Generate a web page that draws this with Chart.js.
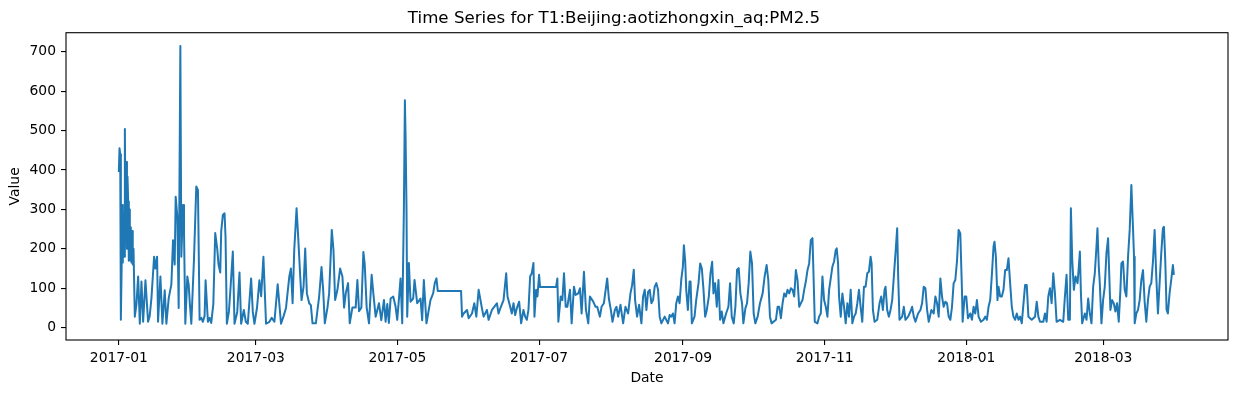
<!DOCTYPE html>
<html>
<head>
<meta charset="utf-8">
<title>Time Series for T1:Beijing:aotizhongxin_aq:PM2.5</title>
<script src="https://cdn.jsdelivr.net/npm/chart.js@4.4.1/dist/chart.umd.min.js"></script>
<style>
  html, body { margin: 0; padding: 0; background: #fff; }
  canvas { display: block; }
</style>
</head>
<body>
<canvas id="chart" width="1238" height="393"></canvas>
<script>
// [days since 2017-01-01 00:00, PM2.5] (thinned hourly series)
const pm25 = [
    [0, 395], [0.3, 455], [0.6, 440], [0.88, 20], [1.2, 150], [1.45, 311], [1.7, 165], [2.0, 290], [2.3, 180],
    [2.6, 504], [2.9, 260], [3.2, 420], [3.5, 200], [3.74, 383], [4.03, 320], [4.3, 170], [4.5, 300],
    [4.74, 172], [5.0, 255], [5.17, 170], [5.3, 240], [5.46, 165], [5.75, 245], [6.0, 160], [6.32, 200], [6.89, 28],
    [7.6, 60], [8.32, 130], [9.04, 10], [9.75, 117], [10.47, 15], [11.47, 120], [12.6, 15], [13.3, 30],
    [14.05, 75], [15.19, 180], [15.76, 150], [16.48, 180], [16.9, 15], [17.91, 130], [18.77, 10], [19.77, 95],
    [20.48, 10], [21.49, 75], [22.63, 110], [23.35, 222], [24.06, 160], [24.49, 332], [25.21, 280], [25.78, 50],
    [26.5, 714], [26.92, 180], [27.64, 311], [28.07, 245], [28.64, 10], [29.5, 130], [30.07, 110], [30.6, 60],
    [31.22, 10], [32.36, 172], [33.36, 358], [34.08, 349], [34.79, 20], [35.51, 25], [36.2, 15], [36.94, 30],
    [37.37, 120], [38.37, 15], [39.1, 25], [39.8, 12], [40.7, 60], [41.52, 240], [42.38, 200], [42.95, 160],
    [43.67, 140], [44.1, 245], [44.81, 286], [45.53, 290], [45.96, 230], [46.53, 10], [47.4, 40], [48.1, 100],
    [49.1, 193], [49.82, 10], [51.0, 40], [51.97, 140], [52.68, 10], [53.83, 45], [54.7, 15], [55.54, 10],
    [56.98, 125], [57.7, 40], [58.41, 10], [59.5, 50], [60.55, 120], [61.3, 80], [62.27, 180], [63.41, 10],
    [64.85, 15], [65.85, 25], [67.0, 15], [68.42, 110], [69.85, 10], [71.0, 30], [72.0, 50], [73.43, 130],
    [74.12, 150], [74.84, 62], [75.55, 197], [76.55, 303], [77.27, 227], [78.13, 130], [78.7, 70], [79.56, 104],
    [80.27, 201], [80.99, 87], [81.99, 62], [82.7, 57], [83.42, 11], [84.85, 11], [86.28, 79], [87.29, 154],
    [88.0, 96], [88.72, 11], [89.86, 51], [90.58, 87], [91.72, 248], [92.44, 197], [93.15, 70], [94.15, 96],
    [95.3, 150], [96.3, 130], [97.02, 51], [97.73, 87], [98.73, 113], [99.45, 11], [100.6, 51], [102.0, 51],
    [102.74, 121], [103.46, 42], [104.46, 51], [105.32, 192], [105.89, 162], [106.75, 51], [107.75, 11], [108.89, 134],
    [109.61, 87], [110.61, 28], [112.04, 62], [113.04, 19], [114.19, 70], [114.9, 15], [115.62, 60], [116.3, 12],
    [117.05, 74], [118.19, 79], [119.2, 53], [119.9, 20], [120.6, 70], [121.34, 125], [122.06, 11], [122.77, 300],
    [123.2, 577], [123.49, 487], [123.9, 300], [124.2, 28], [124.92, 164], [125.64, 66], [126.78, 74], [127.35, 121],
    [128.5, 62], [129.93, 74], [130.64, 19], [131.36, 121], [132.5, 11], [133.22, 36], [134.22, 70], [135.37, 87],
    [136.08, 113], [136.8, 125], [137.37, 93], [147.4, 93], [147.82, 28], [148.5, 36], [149.96, 45], [150.68, 24],
    [152.1, 36], [153.1, 62], [153.97, 28], [154.97, 96], [156.39, 49], [157.1, 28], [158.53, 45], [159.25, 20],
    [160.68, 45], [161.68, 53], [162.83, 62], [163.54, 36], [164.54, 53], [165.69, 70], [166.83, 138], [167.4, 79],
    [168.55, 53], [169.26, 36], [169.98, 62], [170.7, 32], [171.41, 49], [172.41, 66], [173.27, 11], [174.27, 45],
    [174.99, 28], [175.7, 20], [176.42, 45], [177.14, 130], [177.85, 138], [178.57, 164], [179.0, 28], [179.71, 96],
    [180.28, 79], [181.0, 134], [181.43, 103], [188.3, 103], [188.87, 125], [189.3, 15], [190.3, 79], [191.02, 70],
    [191.73, 138], [192.45, 53], [193.16, 53], [194.3, 96], [195.02, 11], [196.02, 104], [196.74, 83], [197.88, 87],
    [198.6, 100], [199.32, 36], [200.32, 142], [201.18, 45], [202.18, 11], [202.89, 79], [204.32, 66], [205.33, 53],
    [206.04, 53], [207.19, 28], [207.9, 53], [208.9, 62], [210.33, 125], [211.05, 74], [211.91, 45], [212.62, 15],
    [213.63, 45], [214.34, 53], [215.06, 28], [216.06, 58], [217.2, 11], [218.2, 53], [219.35, 36], [220.35, 87],
    [221.07, 108], [221.78, 147], [222.35, 70], [223.21, 28], [224.07, 58], [225.07, 11], [225.79, 79], [226.5, 96],
    [227.22, 45], [227.94, 91], [228.65, 96], [229.37, 62], [230.08, 70], [230.8, 104], [231.51, 113], [232.23, 96],
    [232.94, 28], [233.66, 11], [235.09, 28], [236.52, 11], [237.21, 32], [237.93, 28], [238.64, 36], [239.36, 11],
    [240.07, 62], [240.79, 79], [241.5, 62], [242.22, 121], [242.93, 155], [243.36, 209], [243.94, 167], [244.37, 96],
    [245.08, 45], [245.8, 117], [246.23, 117], [246.8, 11], [247.94, 28], [248.66, 70], [249.66, 113], [250.38, 163],
    [251.09, 150], [251.81, 96], [252.52, 28], [253.24, 45], [254.1, 79], [254.81, 138], [255.53, 167], [256.1, 87],
    [256.81, 113], [257.53, 53], [258.25, 121], [258.96, 20], [259.68, 41], [260.39, 11], [261.54, 36], [262.54, 53],
    [263.25, 113], [263.97, 28], [264.83, 11], [265.54, 53], [266.26, 147], [266.97, 151], [267.69, 87], [268.41, 62],
    [268.98, 11], [269.84, 49], [270.55, 62], [271.27, 113], [271.98, 193], [272.7, 163], [273.41, 36], [274.13, 11],
    [275.13, 28], [276.13, 62], [277.28, 87], [278.14, 130], [279.0, 159], [279.71, 121], [280.43, 28], [281.14, 11],
    [283.0, 20], [283.72, 53], [284.43, 53], [285.15, 24], [285.86, 62], [286.58, 87], [287.3, 79], [288.01, 96],
    [288.73, 87], [289.44, 100], [290.16, 96], [290.87, 79], [291.59, 146], [292.3, 121], [293.02, 53], [293.73, 62],
    [294.45, 70], [295.17, 96], [295.88, 117], [296.6, 146], [297.31, 163], [298.03, 222], [298.74, 227], [299.17, 138],
    [299.74, 15], [300.89, 11], [301.6, 28], [302.32, 36], [303.03, 130], [303.75, 70], [304.47, 53], [305.18, 28],
    [305.9, 96], [306.61, 125], [307.33, 155], [308.04, 168], [308.76, 197], [309.19, 201], [309.76, 163], [310.19, 79],
    [310.91, 28], [311.62, 87], [312.34, 53], [313.05, 11], [313.77, 62], [314.48, 28], [315.2, 96], [315.92, 11],
    [316.63, 28], [317.35, 36], [318.06, 62], [318.76, 96], [319.48, 53], [320.19, 15], [320.91, 104], [321.62, 104],
    [322.34, 138], [323.05, 142], [323.77, 180], [324.2, 163], [324.77, 45], [325.49, 15], [326.63, 20], [327.63, 62],
    [328.35, 79], [329.06, 45], [329.78, 96], [330.21, 104], [330.92, 45], [331.64, 28], [332.35, 45], [333.07, 70],
    [333.79, 130], [334.5, 189], [335.22, 252], [335.65, 130], [336.22, 20], [337.36, 28], [338.08, 53], [338.79, 20],
    [339.94, 28], [340.94, 41], [341.66, 53], [342.37, 28], [343.09, 15], [344.23, 36], [345.23, 45], [345.95, 62],
    [346.66, 104], [347.38, 100], [348.1, 45], [348.81, 15], [349.96, 45], [350.96, 36], [351.67, 79], [352.39, 62],
    [353.1, 28], [353.82, 125], [354.54, 79], [355.25, 53], [355.97, 66], [356.68, 62], [357.4, 28], [358.11, 20],
    [358.83, 53], [359.54, 113], [360.26, 121], [360.97, 168], [361.69, 248], [362.41, 239], [363.12, 96], [363.41, 15],
    [364.27, 79], [364.98, 79], [365.7, 24], [366.7, 36], [367.41, 20], [368.13, 53], [368.85, 36], [369.56, 70],
    [370.28, 28], [371.28, 15], [372.42, 20], [373.14, 28], [373.85, 20], [374.57, 53], [375.28, 70], [376.0, 134],
    [376.72, 206], [377.14, 218], [377.72, 180], [378.43, 70], [378.86, 104], [379.58, 79], [380.29, 79], [381.01, 96],
    [381.72, 146], [382.44, 146], [383.16, 176], [383.87, 113], [384.59, 53], [385.3, 28], [386.02, 20], [386.73, 36],
    [387.45, 20], [388.17, 28], [388.88, 11], [390.31, 108], [391.03, 108], [391.74, 28], [393.17, 20], [394.6, 28],
    [395.32, 66], [396.03, 28], [396.73, 15], [398.16, 15], [398.87, 36], [399.59, 15], [400.3, 79], [401.02, 100],
    [401.73, 62], [402.45, 138], [403.17, 87], [403.88, 15], [405.31, 20], [406.74, 15], [407.46, 79], [408.17, 134],
    [408.89, 20], [409.6, 20], [410.03, 303], [410.61, 172], [411.32, 96], [412.04, 130], [412.9, 113], [413.47, 155],
    [413.9, 193], [414.33, 91], [414.9, 11], [416.04, 36], [416.76, 20], [417.48, 74], [418.19, 36], [418.91, 11],
    [419.62, 104], [420.34, 138], [421.05, 206], [421.48, 252], [422.05, 155], [422.48, 113], [423.2, 11], [423.91, 70],
    [424.63, 104], [425.35, 189], [426.06, 227], [426.49, 146], [427.06, 45], [427.78, 70], [428.49, 62], [429.21, 41],
    [429.92, 62], [430.64, 15], [431.36, 96], [431.79, 163], [432.5, 168], [433.22, 96], [433.93, 79], [434.65, 180],
    [435.36, 248], [436.08, 362], [436.79, 252], [437.22, 180], [437.51, 11], [438.22, 36], [438.94, 45], [439.65, 70],
    [440.37, 121], [441.09, 146], [441.8, 66], [442.52, 15], [443.23, 70], [443.95, 104], [444.66, 113], [445.38, 168],
    [446.1, 248], [446.81, 130], [447.53, 36], [448.24, 113], [448.96, 189], [449.67, 252], [450.1, 256], [450.67, 172],
    [451.25, 45], [451.82, 36], [452.53, 87], [453.25, 121], [453.97, 159], [454.4, 134]
];

// month starts (days since 2017-01-01) and their labels
const tickDays = [0, 59, 120, 181, 243, 304, 365, 424];
const tickLabels = ['2017-01', '2017-03', '2017-05', '2017-07', '2017-09', '2017-11', '2018-01', '2018-03'];
const valueTicks = [0, 100, 200, 300, 400, 500, 600, 700];

Chart.defaults.font.family = "'DejaVu Sans', sans-serif";
Chart.defaults.color = '#000';

// matplotlib style box round the plot
const framePlugin = {
    id: 'frame',
    afterDatasetsDraw(chart) {
        const { ctx, chartArea: a } = chart;
        ctx.save();
        ctx.strokeStyle = '#000';
        ctx.lineWidth = 1.1;
        ctx.strokeRect(a.left, a.top, a.right - a.left, a.bottom - a.top);
        ctx.restore();
    }
};

const tickGrid = { drawOnChartArea: false, drawTicks: true, tickLength: 5, color: '#000', lineWidth: 1.1 };

new Chart(document.getElementById('chart'), {
    type: 'line',
    data: {
        datasets: [{
            data: pm25.map(p => ({ x: p[0], y: p[1] })),
            borderColor: '#1f77b4',
            borderWidth: 2,
            borderJoinStyle: 'round',
            pointRadius: 0,
            tension: 0,
            fill: false
        }]
    },
    options: {
        responsive: false,
        animation: false,
        layout: { padding: { left: 0, right: 10, top: 0, bottom: 0 } },
        plugins: {
            legend: { display: false },
            tooltip: { enabled: false },
            title: {
                display: true,
                text: 'Time Series for T1:Beijing:aotizhongxin_aq:PM2.5',
                font: { size: 16.67, weight: 'normal' },
                color: '#000',
                padding: { top: 9, bottom: 3.7 }
            }
        },
        scales: {
            x: {
                type: 'linear',
                min: -22.75,
                max: 477.7,
                afterBuildTicks: s => { s.ticks = tickDays.map(v => ({ value: v })); },
                afterFit: s => { s.height = 53; },
                ticks: {
                    callback: (v, i) => tickLabels[i],
                    autoSkip: false, maxRotation: 0, padding: 5,
                    font: { size: 13.89 }
                },
                grid: tickGrid,
                border: { display: false },
                title: { display: true, text: 'Date', font: { size: 13.89 }, padding: { top: 0, bottom: 6.7 } }
            },
            y: {
                type: 'linear',
                min: -31.2,
                max: 748,
                afterBuildTicks: s => { s.ticks = valueTicks.map(v => ({ value: v })); },
                afterFit: s => { s.width = 66; },
                ticks: { padding: 5, font: { size: 13.89 } },
                grid: tickGrid,
                border: { display: false },
                title: { display: true, text: 'Value', font: { size: 13.89 }, padding: { top: 6.7, bottom: 0 } }
            }
        }
    },
    plugins: [framePlugin]
});
</script>
</body>
</html>
